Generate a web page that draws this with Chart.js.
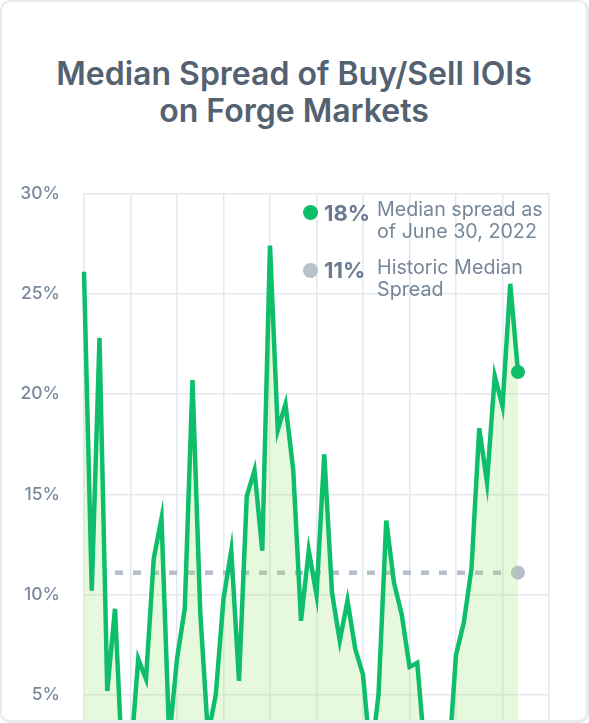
<!DOCTYPE html>
<html>
<head>
<meta charset="utf-8">
<script src="https://cdn.jsdelivr.net/npm/chart.js@4.4.1/dist/chart.umd.min.js"></script>
<style>
  html, body { margin: 0; padding: 0; width: 589px; height: 723px; overflow: hidden; background: #fff; }
  .card {
    position: relative; box-sizing: border-box; width: 589px; height: 723px;
    border: 2px solid #e7ebf0; border-right-width: 3px; border-bottom-width: 3px;
    border-radius: 10px; overflow: hidden; background: #fff;
    font-family: Inter, "Noto Sans", sans-serif;
  }
  h2 {
    position: absolute; left: 0; top: 52.5px; width: 584px; margin: 0;
    text-align: center; font-size: 32px; line-height: 37.7px; font-weight: 600; color: #536170;
  }
  /* y tick padding pushes the plot down by ~34px, so the box starts higher */
  .chart-box { position: absolute; left: 0; top: 157px; width: 587px; height: 671px; }
  .dot { position: absolute; width: 15px; height: 15px; border-radius: 50%; }
  .pct { position: absolute; left: 322px; font-size: 22px; line-height: 22px; font-weight: 700; color: #6b7a90; }
  .txt { position: absolute; left: 375px; font-size: 19.7px; line-height: 22px; font-weight: 400; color: #778799; white-space: nowrap; }
</style>
</head>
<body>
<div class="card">
  <h2>Median Spread of Buy/Sell IOIs<br>on Forge Markets</h2>
  <div class="chart-box"><canvas id="spreadChart"></canvas></div>

  <div class="dot" style="left:300.5px; top:202.8px; background:#0ebe6a;"></div>
  <div class="pct" style="top:199.5px;">18%</div>
  <div class="txt" style="top:196.3px;">Median spread as<br>of June 30, 2022</div>

  <div class="dot" style="left:300.5px; top:260.5px; background:#b9c1cd;"></div>
  <div class="pct" style="top:256.8px;">11%</div>
  <div class="txt" style="top:253.6px;">Historic Median<br>Spread</div>
</div>

<script>
// monthly median spread (%), Oct 2017 -> Jun 2022
const spread = [
  26.1, 10.2, 22.8, 5.2, 9.3, 1.0, 1.8, 6.8, 5.8, 11.8,
  13.8, 2.8, 6.8, 9.3, 20.7, 9.1, 3.0, 5.0, 9.8, 12.2,
  5.7, 14.9, 16.2, 12.2, 27.4, 18.2, 19.5, 16.2, 8.7, 12.2,
  10.0, 17.0, 10.1, 7.7, 9.7, 7.3, 6.0, 1.8, 5.0, 13.7,
  10.6, 9.0, 6.4, 6.6, 2.0, 1.5, 1.0, 1.4, 7.0, 8.6,
  11.3, 18.3, 15.6, 20.9, 19.4, 25.5, 21.1
];
const historicMedian = 11.1;
const medianStart = 4;            // dashed reference line starts here
const medianEnd = spread.length - 1;
const yTicks = [0, 5, 10, 15, 20, 25, 30];

// month labels, axis runs 4 months past the last point
const monthNames = ['Jan','Feb','Mar','Apr','May','Jun','Jul','Aug','Sep','Oct','Nov','Dec'];
const months = [];
for (let i = 0; i < 61; i++) {
  const m = (9 + i) % 12;
  const y = 2017 + Math.floor((9 + i) / 12);
  months.push(monthNames[m] + ' ' + y);
}

const medianLine = months.map((_, i) => (i === medianStart || i === medianEnd) ? historicMedian : null);

const GREEN = '#0ebe6a';
const GREY = '#b6becb';
const GRID = '#e3e8ee';

const ctx = document.getElementById('spreadChart').getContext('2d');
new Chart(ctx, {
  type: 'line',
  data: {
    labels: months,
    datasets: [{
      data: spread,
      borderColor: GREEN,
      borderWidth: 4.5,
      backgroundColor: 'rgba(150, 228, 110, 0.23)',
      fill: 'origin',
      tension: 0,
      pointRadius: c => c.dataIndex === spread.length - 1 ? 7 : 0,
      pointBackgroundColor: GREEN,
      pointBorderWidth: 0,
      pointHoverRadius: 0
    }, {
      data: medianLine,
      spanGaps: true,
      borderColor: GREY,
      borderWidth: 4.5,
      borderDash: [8, 10],
      fill: false,
      pointRadius: c => c.dataIndex === medianEnd ? 7 : 0,
      pointBackgroundColor: GREY,
      pointBorderWidth: 0,
      pointHoverRadius: 0
    }]
  },
  options: {
    responsive: true,
    maintainAspectRatio: false,
    animation: false,
    layout: { padding: { left: 0, right: 40, top: 0, bottom: 34.7 } },
    plugins: { legend: { display: false }, tooltip: { enabled: false } },
    scales: {
      x: {
        ticks: { display: false, autoSkip: false },
        border: { display: false },
        grid: {
          color: c => c.index % 6 === 0 ? GRID : 'transparent',
          lineWidth: 1.5,
          drawTicks: false
        },
        afterFit: s => { s.height = 0; }
      },
      y: {
        min: 0,
        max: 30,
        afterBuildTicks: s => { s.ticks = yTicks.map(v => ({ value: v })); },
        ticks: {
          padding: 24,
          color: '#7a899e',
          font: { family: 'Inter', size: 17.5, weight: 500 },
          callback: v => v + '%'
        },
        border: { display: false },
        grid: { color: GRID, lineWidth: 1.5, drawTicks: false },
        afterFit: s => { s.width = 82; }
      }
    }
  }
});
</script>
</body>
</html>
